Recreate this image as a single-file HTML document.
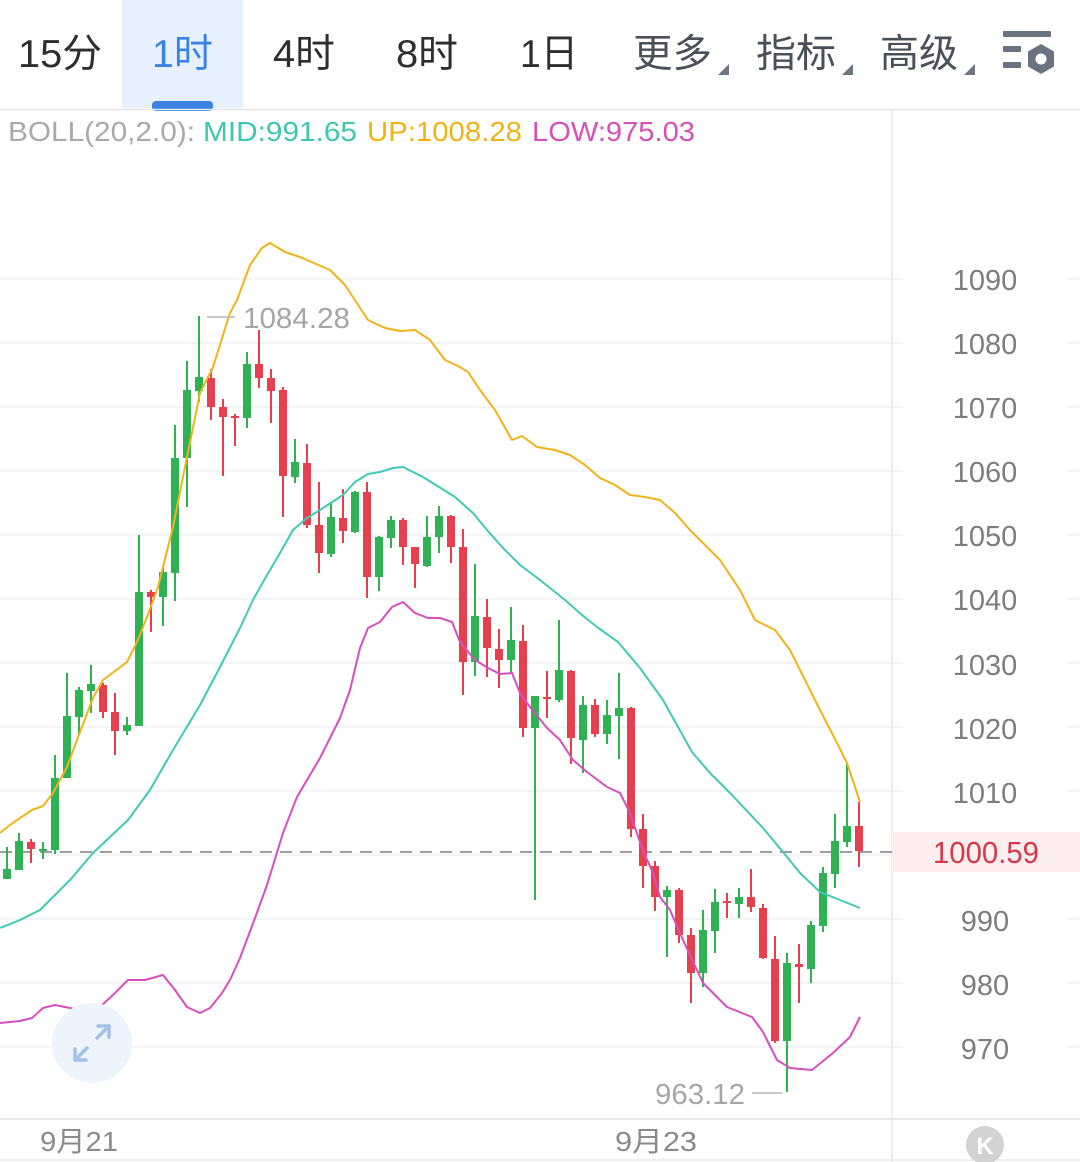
<!DOCTYPE html>
<html><head><meta charset="utf-8"><style>
html,body{margin:0;padding:0;background:#fff;}
svg{display:block;}
text{font-family:"Liberation Sans","Noto Sans CJK SC",sans-serif;}
</style></head><body>
<svg width="1080" height="1162" viewBox="0 0 1080 1162" xmlns="http://www.w3.org/2000/svg">
<rect width="1080" height="1162" fill="#fff"/>
<!-- header -->
<rect x="122" y="0" width="121" height="108" fill="#e7f1fd"/>
<rect x="152" y="101" width="61" height="10" rx="4" fill="#3a83e2"/>
<line x1="0" y1="109.5" x2="1080" y2="109.5" stroke="#e6e6e6" stroke-width="1.5"/>
<g font-size="39" fill="#2e2e2e">
<text x="18" y="67" textLength="84" lengthAdjust="spacingAndGlyphs">15分</text>
<text x="152" y="67" textLength="61" lengthAdjust="spacingAndGlyphs" fill="#3a83e2">1时</text>
<text x="273" y="67" textLength="62" lengthAdjust="spacingAndGlyphs">4时</text>
<text x="396" y="67" textLength="62" lengthAdjust="spacingAndGlyphs">8时</text>
<text x="520" y="67" textLength="58" lengthAdjust="spacingAndGlyphs">1日</text>
<text x="633" y="67" textLength="79" lengthAdjust="spacingAndGlyphs" fill="#4a4f58">更多</text>
<text x="756" y="67" textLength="80" lengthAdjust="spacingAndGlyphs" fill="#4a4f58">指标</text>
<text x="880" y="67" textLength="78" lengthAdjust="spacingAndGlyphs" fill="#4a4f58">高级</text>
</g>
<g fill="#6f7580">
<polygon points="729,64 729,75 718,75"/>
<polygon points="853,64 853,75 842,75"/>
<polygon points="975,64 975,75 964,75"/>
</g>
<g fill="#6b7380">
<rect x="1003" y="31" width="48" height="6" rx="1"/>
<rect x="1003" y="46" width="18" height="6" rx="1"/>
<rect x="1003" y="62" width="18" height="6" rx="1"/>
<polygon points="1041,44 1054,51.5 1054,66.5 1041,74 1028,66.5 1028,51.5"/>
<circle cx="1041" cy="59" r="5.5" fill="#fff"/>
</g>
<!-- legend -->
<g font-size="28">
<text x="8" y="141" fill="#a9a9a9" textLength="187" lengthAdjust="spacingAndGlyphs">BOLL(20,2.0):</text>
<text x="203" y="141" fill="#3ec7b1" textLength="154" lengthAdjust="spacingAndGlyphs">MID:991.65</text>
<text x="367" y="141" fill="#efb315" textLength="155" lengthAdjust="spacingAndGlyphs">UP:1008.28</text>
<text x="532" y="141" fill="#d650b8" textLength="163" lengthAdjust="spacingAndGlyphs">LOW:975.03</text>
</g>
<!-- grid -->
<g stroke="#eef0f3" stroke-width="1.5">
<line x1="0" y1="279" x2="903" y2="279"/><line x1="1067" y1="279" x2="1080" y2="279"/>
<line x1="0" y1="343" x2="903" y2="343"/><line x1="1067" y1="343" x2="1080" y2="343"/>
<line x1="0" y1="407" x2="903" y2="407"/><line x1="1067" y1="407" x2="1080" y2="407"/>
<line x1="0" y1="471" x2="903" y2="471"/><line x1="1067" y1="471" x2="1080" y2="471"/>
<line x1="0" y1="535" x2="903" y2="535"/><line x1="1067" y1="535" x2="1080" y2="535"/>
<line x1="0" y1="599" x2="903" y2="599"/><line x1="1067" y1="599" x2="1080" y2="599"/>
<line x1="0" y1="663" x2="903" y2="663"/><line x1="1067" y1="663" x2="1080" y2="663"/>
<line x1="0" y1="727" x2="903" y2="727"/><line x1="1067" y1="727" x2="1080" y2="727"/>
<line x1="0" y1="791" x2="903" y2="791"/><line x1="1067" y1="791" x2="1080" y2="791"/>
<line x1="0" y1="855" x2="903" y2="855"/>
<line x1="0" y1="919" x2="903" y2="919"/><line x1="1067" y1="919" x2="1080" y2="919"/>
<line x1="0" y1="983" x2="903" y2="983"/><line x1="1067" y1="983" x2="1080" y2="983"/>
<line x1="0" y1="1047" x2="903" y2="1047"/><line x1="1067" y1="1047" x2="1080" y2="1047"/>
</g>
<line x1="892" y1="110" x2="892" y2="1162" stroke="#e8e8e8" stroke-width="1.5"/>
<line x1="0" y1="1119" x2="1080" y2="1119" stroke="#e4e4e4" stroke-width="1.5"/>
<line x1="0" y1="1160" x2="1080" y2="1160" stroke="#e8e8e8" stroke-width="1.5"/>
<!-- y labels -->
<g font-size="29" fill="#7d7d7d" text-anchor="middle">
<text x="985" y="290">1090</text>
<text x="985" y="354">1080</text>
<text x="985" y="418">1070</text>
<text x="985" y="482">1060</text>
<text x="985" y="546">1050</text>
<text x="985" y="610">1040</text>
<text x="985" y="675">1030</text>
<text x="985" y="739">1020</text>
<text x="985" y="803">1010</text>
<text x="985" y="931">990</text>
<text x="985" y="995">980</text>
<text x="985" y="1059">970</text>
</g>
<rect x="892" y="832" width="188" height="40" fill="#fdeff0"/>
<text x="986" y="863" font-size="31" fill="#d8374b" text-anchor="middle" textLength="106" lengthAdjust="spacingAndGlyphs">1000.59</text>
<!-- dashed current price -->
<line x1="0" y1="852" x2="892" y2="852" stroke="#9e9e9e" stroke-width="2" stroke-dasharray="12 8"/>
<!-- candles green -->
<g fill="#2eb254">
<rect x="6" y="847" width="2" height="32"/><rect x="3" y="869" width="8" height="10"/>
<rect x="18" y="833" width="2" height="37"/><rect x="15" y="841" width="8" height="29"/>
<rect x="42" y="842" width="2" height="17"/><rect x="39" y="849" width="8" height="2"/>
<rect x="54" y="755" width="2" height="99"/><rect x="51" y="778" width="8" height="72"/>
<rect x="66" y="673" width="2" height="105"/><rect x="63" y="716" width="8" height="62"/>
<rect x="78" y="687" width="2" height="48"/><rect x="75" y="690" width="8" height="27"/>
<rect x="90" y="665" width="2" height="48"/><rect x="87" y="684" width="8" height="7"/>
<rect x="126" y="717" width="2" height="18"/><rect x="123" y="725" width="8" height="6"/>
<rect x="138" y="535" width="2" height="191"/><rect x="135" y="592" width="8" height="134"/>
<rect x="162" y="567" width="2" height="59"/><rect x="159" y="572" width="8" height="25"/>
<rect x="174" y="425" width="2" height="176"/><rect x="171" y="458" width="8" height="115"/>
<rect x="186" y="361" width="2" height="146"/><rect x="183" y="390" width="8" height="68"/>
<rect x="198" y="316" width="2" height="86"/><rect x="195" y="377" width="8" height="14"/>
<rect x="246" y="352" width="2" height="76"/><rect x="243" y="364" width="8" height="54"/>
<rect x="294" y="439" width="2" height="44"/><rect x="291" y="462" width="8" height="15"/>
<rect x="330" y="502" width="2" height="55"/><rect x="327" y="517" width="8" height="37"/>
<rect x="354" y="491" width="2" height="42"/><rect x="351" y="492" width="8" height="40"/>
<rect x="378" y="536" width="2" height="55"/><rect x="375" y="537" width="8" height="40"/>
<rect x="390" y="516" width="2" height="32"/><rect x="387" y="520" width="8" height="18"/>
<rect x="426" y="516" width="2" height="51"/><rect x="423" y="537" width="8" height="29"/>
<rect x="438" y="506" width="2" height="47"/><rect x="435" y="516" width="8" height="21"/>
<rect x="474" y="564" width="2" height="112"/><rect x="471" y="616" width="8" height="46"/>
<rect x="510" y="607" width="2" height="66"/><rect x="507" y="640" width="8" height="20"/>
<rect x="534" y="696" width="2" height="204"/><rect x="531" y="696" width="8" height="32"/>
<rect x="558" y="620" width="2" height="82"/><rect x="555" y="670" width="8" height="30"/>
<rect x="582" y="696" width="2" height="77"/><rect x="579" y="705" width="8" height="35"/>
<rect x="606" y="700" width="2" height="44"/><rect x="603" y="715" width="8" height="19"/>
<rect x="618" y="673" width="2" height="86"/><rect x="615" y="708" width="8" height="8"/>
<rect x="666" y="886" width="2" height="71"/><rect x="663" y="890" width="8" height="7"/>
<rect x="702" y="910" width="2" height="77"/><rect x="699" y="930" width="8" height="43"/>
<rect x="714" y="889" width="2" height="64"/><rect x="711" y="902" width="8" height="29"/>
<rect x="738" y="888" width="2" height="30"/><rect x="735" y="897" width="8" height="7"/>
<rect x="786" y="953" width="2" height="139"/><rect x="783" y="963" width="8" height="78"/>
<rect x="810" y="921" width="2" height="62"/><rect x="807" y="925" width="8" height="44"/>
<rect x="822" y="867" width="2" height="65"/><rect x="819" y="873" width="8" height="53"/>
<rect x="834" y="814" width="2" height="74"/><rect x="831" y="841" width="8" height="33"/>
<rect x="846" y="763" width="2" height="84"/><rect x="843" y="826" width="8" height="16"/>
</g>
<!-- candles red -->
<g fill="#e6404f">
<rect x="30" y="839" width="2" height="24"/><rect x="27" y="842" width="8" height="7"/>
<rect x="102" y="683" width="2" height="35"/><rect x="99" y="685" width="8" height="27"/>
<rect x="114" y="693" width="2" height="62"/><rect x="111" y="712" width="8" height="19"/>
<rect x="150" y="590" width="2" height="42"/><rect x="147" y="592" width="8" height="5"/>
<rect x="210" y="369" width="2" height="51"/><rect x="207" y="378" width="8" height="29"/>
<rect x="222" y="399" width="2" height="77"/><rect x="219" y="407" width="8" height="10"/>
<rect x="234" y="414" width="2" height="32"/><rect x="231" y="416" width="8" height="2"/>
<rect x="258" y="330" width="2" height="58"/><rect x="255" y="364" width="8" height="14"/>
<rect x="270" y="369" width="2" height="54"/><rect x="267" y="378" width="8" height="13"/>
<rect x="282" y="387" width="2" height="130"/><rect x="279" y="390" width="8" height="86"/>
<rect x="306" y="444" width="2" height="84"/><rect x="303" y="463" width="8" height="62"/>
<rect x="318" y="482" width="2" height="91"/><rect x="315" y="525" width="8" height="28"/>
<rect x="342" y="489" width="2" height="54"/><rect x="339" y="518" width="8" height="13"/>
<rect x="366" y="482" width="2" height="116"/><rect x="363" y="492" width="8" height="85"/>
<rect x="402" y="518" width="2" height="47"/><rect x="399" y="520" width="8" height="27"/>
<rect x="414" y="547" width="2" height="41"/><rect x="411" y="547" width="8" height="17"/>
<rect x="450" y="515" width="2" height="48"/><rect x="447" y="516" width="8" height="31"/>
<rect x="462" y="529" width="2" height="166"/><rect x="459" y="547" width="8" height="115"/>
<rect x="486" y="599" width="2" height="78"/><rect x="483" y="617" width="8" height="31"/>
<rect x="498" y="629" width="2" height="59"/><rect x="495" y="649" width="8" height="11"/>
<rect x="522" y="625" width="2" height="112"/><rect x="519" y="641" width="8" height="87"/>
<rect x="546" y="671" width="2" height="47"/><rect x="543" y="697" width="8" height="2"/>
<rect x="570" y="670" width="2" height="94"/><rect x="567" y="671" width="8" height="67"/>
<rect x="594" y="699" width="2" height="38"/><rect x="591" y="705" width="8" height="29"/>
<rect x="630" y="707" width="2" height="130"/><rect x="627" y="708" width="8" height="121"/>
<rect x="642" y="814" width="2" height="74"/><rect x="639" y="829" width="8" height="37"/>
<rect x="654" y="861" width="2" height="50"/><rect x="651" y="866" width="8" height="31"/>
<rect x="678" y="888" width="2" height="55"/><rect x="675" y="890" width="8" height="45"/>
<rect x="690" y="928" width="2" height="75"/><rect x="687" y="935" width="8" height="38"/>
<rect x="726" y="893" width="2" height="25"/><rect x="723" y="901" width="8" height="2"/>
<rect x="750" y="869" width="2" height="43"/><rect x="747" y="897" width="8" height="10"/>
<rect x="762" y="904" width="2" height="55"/><rect x="759" y="908" width="8" height="50"/>
<rect x="774" y="936" width="2" height="107"/><rect x="771" y="959" width="8" height="82"/>
<rect x="798" y="944" width="2" height="59"/><rect x="795" y="964" width="8" height="3"/>
<rect x="858" y="802" width="2" height="65"/><rect x="855" y="826" width="8" height="25"/>
</g>
<!-- bands -->
<g fill="none" stroke-width="2" stroke-linejoin="round">
<polyline stroke="#f0b41a" points="0,833 10,825 20,818 32,810 43,806 53,793 67,767 80,732 93,698 103,680 127,662 137,642 147,617 158,587 163,567 173,527 187,457 200,393 213,367 230,313 237,300 250,265 262,248 270,243 285,252 300,257 330,270 345,285 368,320 385,328 400,331 415,330 430,340 445,360 458,366 468,372 480,390 495,410 512,440 522,436 537,447 555,450 570,455 585,465 600,478 615,485 630,495 645,497 660,500 675,513 690,530 705,545 720,560 740,590 755,620 775,630 790,650 805,680 820,710 838,745 847,763 860,802"/>
<polyline stroke="#40c9b5" points="0,928 20,920 40,910 50,900 70,880 93,853 128,820 150,790 173,750 200,705 220,667 240,628 253,600 263,582 280,553 293,530 307,518 320,510 343,495 355,482 368,474 380,472 393,468 403,467 423,477 447,492 455,497 473,513 487,530 503,548 520,565 540,580 565,600 582,615 597,627 618,642 640,668 663,700 692,752 710,773 730,793 763,828 783,852 800,873 820,892 860,908"/>
<polyline stroke="#d64fbd" points="0,1023 20,1021 32,1018 43,1008 55,1005 75,1009 92,1012 100,1007 115,993 128,980 145,980 163,975 175,990 187,1007 200,1013 210,1008 222,993 230,980 240,958 255,918 267,885 283,833 297,797 320,758 340,718 350,690 360,648 368,628 380,622 392,607 403,602 415,613 428,618 440,618 452,622 460,642 475,660 488,668 500,674 512,673 520,693 530,707 547,728 560,740 573,760 587,772 607,787 620,793 630,813 642,848 653,873 660,897 670,910 683,940 703,983 727,1007 752,1017 763,1032 777,1060 790,1068 812,1070 833,1053 850,1037 860,1017"/>
</g>
<!-- max / min labels -->
<line x1="207" y1="317" x2="235" y2="317" stroke="#b5b5b5" stroke-width="1.5"/>
<text x="243" y="328" font-size="29" fill="#a6a6a6" textLength="107" lengthAdjust="spacingAndGlyphs">1084.28</text>
<text x="655" y="1104" font-size="29" fill="#a6a6a6" textLength="90" lengthAdjust="spacingAndGlyphs">963.12</text>
<line x1="752" y1="1093" x2="782" y2="1093" stroke="#b5b5b5" stroke-width="1.5"/>
<!-- zoom icon -->
<circle cx="92" cy="1043" r="40" fill="#eef4fc"/>
<g stroke="#a5c0e8" stroke-width="3.5" fill="none" stroke-linecap="round" stroke-linejoin="round">
<line x1="97" y1="1038" x2="109" y2="1026"/>
<polyline points="98,1026 109,1026 109,1037"/>
<line x1="87" y1="1048" x2="75" y2="1060"/>
<polyline points="75,1049 75,1060 86,1060"/>
</g>
<!-- dates -->
<g font-size="28" fill="#8a8a8a">
<text x="40" y="1151" textLength="78" lengthAdjust="spacingAndGlyphs">9月21</text>
<text x="615" y="1151" textLength="82" lengthAdjust="spacingAndGlyphs">9月23</text>
</g>
<!-- K button -->
<circle cx="985" cy="1145" r="19" fill="#d2d2d2"/>
<text x="985" y="1154" font-size="24" font-weight="bold" fill="#fff" text-anchor="middle">K</text>
</svg>
</body></html>
